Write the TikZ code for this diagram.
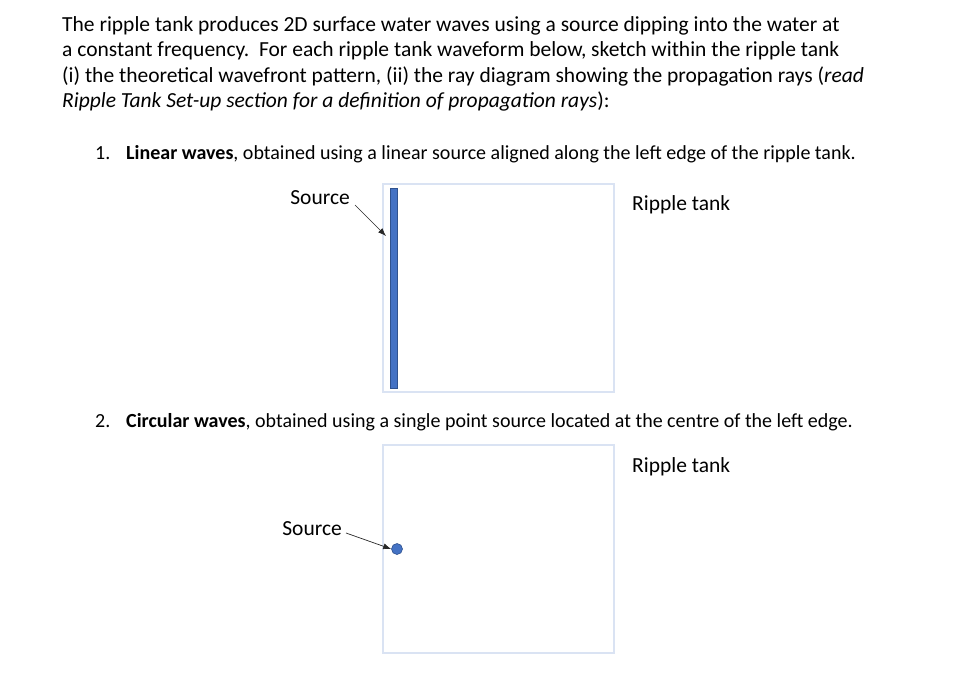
\documentclass[tikz,border=0pt]{standalone}
\usepackage{fontspec}
\setmainfont{Carlito}
\usetikzlibrary{arrows.meta}
\begin{document}
\begin{tikzpicture}[x=1pt,y=-1pt,
  txt/.style={anchor=base west,inner sep=0pt,font=\fontsize{21.5}{26}\selectfont},
  itm/.style={anchor=base west,inner sep=0pt,font=\fontsize{20}{24}\selectfont},
  tank/.style={draw={rgb,255:red,218;green,227;blue,243},line width=1.3pt},
  src/.style={fill={rgb,255:red,68;green,114;blue,196},draw={rgb,255:red,47;green,82;blue,143},line width=0.6pt},
  arr/.style={-{Latex[length=8pt,width=6pt]},line width=0.7pt,draw={rgb,255:red,40;green,40;blue,40}}]
\useasboundingbox (0,0) rectangle (963,673);
\node[txt] (l1) at (62,31) {The ripple tank produces 2D surface water waves using a source dipping into the water at};
\node[txt] (l2) at (62,56) {a constant frequency.\ \ For each ripple tank waveform below, sketch within the ripple tank};
\node[txt] (l3) at (62,82) {(i) the theoretical wavefront pattern, (ii) the ray diagram showing the propagation rays (\textit{read}};
\node[txt] (l4) at (62,107) {\textit{Ripple Tank Set-up section for a definition of propagation rays}):};
\node[itm] (n1) at (95,159) {1.};
\node[itm] (i1) at (126,159) {\textbf{Linear waves}, obtained using a linear source aligned along the left edge of the ripple tank.};
\node[itm] (n2) at (95,427) {2.};
\node[itm] (i2) at (126,427) {\textbf{Circular waves}, obtained using a single point source located at the centre of the left edge.};
% tank 1
\draw[tank] (383,184) rectangle (614,392);
\node[src,draw,rectangle,minimum width=7pt,minimum height=200pt,inner sep=0pt] (bar) at (394,288) {};
\node[txt] (rt1) at (632,210) {Ripple tank};
\node[txt,anchor=base east] (s1) at (350,204) {Source};
\coordinate (a1) at (355,205);
\draw[arr] (a1) -- (386,236);
% tank 2
\draw[tank] (383,445) rectangle (614,653);
\node[src,circle,inner sep=0pt,minimum size=11pt] (dot) at (397,549) {};
\node[txt] (rt2) at (632,472) {Ripple tank};
\node[txt,anchor=base east] (s2) at (342,535) {Source};
\coordinate (a2) at (346,533);
\draw[arr] (a2) -- (dot.west);
\end{tikzpicture}
\end{document}
